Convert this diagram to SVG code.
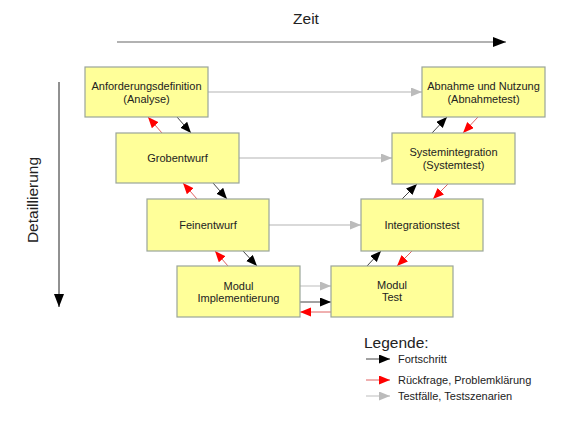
<svg xmlns="http://www.w3.org/2000/svg" width="580" height="425" viewBox="0 0 580 425">
<style>
.box{fill:#ffff99;stroke:#9aa59a;stroke-width:1.2}
.t{font-family:"Liberation Sans",Arial,sans-serif;font-size:11px;fill:#222;text-anchor:middle}
.lg{font-family:"Liberation Sans",Arial,sans-serif;font-size:11px;fill:#222}
.big{font-family:"Liberation Sans",Arial,sans-serif;font-size:15.5px;fill:#222}
.fw{stroke:#444;stroke-width:1;fill:none;marker-end:url(#mb)}
.bk{stroke:#e06060;stroke-width:1;fill:none;marker-end:url(#mr)}
.ts{stroke:#cccccc;stroke-width:1.3;fill:none;marker-end:url(#mg)}
</style>
<defs>
<marker id="mb" markerUnits="userSpaceOnUse" markerWidth="12" markerHeight="10" refX="11" refY="4.5" orient="auto"><path d="M0,0 L11,4.5 L0,9 z" fill="#000"/></marker>
<marker id="mr" markerUnits="userSpaceOnUse" markerWidth="12" markerHeight="10" refX="11" refY="4.5" orient="auto"><path d="M0,0 L11,4.5 L0,9 z" fill="#ff0000"/></marker>
<marker id="mg" markerUnits="userSpaceOnUse" markerWidth="12" markerHeight="10" refX="11" refY="4.5" orient="auto"><path d="M0,0 L11,4.5 L0,9 z" fill="#bbbbbb"/></marker>
<marker id="ma" markerUnits="userSpaceOnUse" markerWidth="14" markerHeight="10" refX="13" refY="5" orient="auto"><path d="M0,0 L13,5 L0,10 z" fill="#000"/></marker>
</defs>
<rect width="580" height="425" fill="#fff"/>

<g id="axes">
<text class="big" x="306" y="24" text-anchor="middle">Zeit</text>
<line x1="117" y1="42" x2="506" y2="42" stroke="#999" stroke-width="1.5" marker-end="url(#ma)"/>
<text class="big" transform="translate(38,200) rotate(-90)" text-anchor="middle">Detaillierung</text>
<line x1="59" y1="82" x2="59" y2="307" stroke="#222" stroke-width="1" marker-end="url(#ma)"/>
</g>

<g id="connectors">
<line class="ts" x1="208" y1="92" x2="422" y2="92"/>
<line class="ts" x1="239" y1="158" x2="392" y2="158"/>
<line class="ts" x1="269" y1="225" x2="361" y2="225"/>
<line class="ts" x1="300" y1="286" x2="331" y2="286"/>
<line class="fw" x1="300" y1="302" x2="331" y2="302"/>
<line class="bk" x1="331" y1="312" x2="300" y2="312"/>

<line class="fw" x1="177" y1="117" x2="191" y2="133"/>
<line class="bk" x1="162" y1="133" x2="148" y2="117"/>
<line class="fw" x1="213" y1="183" x2="227" y2="199"/>
<line class="bk" x1="197" y1="199" x2="183" y2="183"/>
<line class="fw" x1="243" y1="251" x2="257" y2="266"/>
<line class="bk" x1="228" y1="266" x2="215" y2="251"/>

<line class="fw" x1="367" y1="266" x2="381" y2="251"/>
<line class="bk" x1="412" y1="251" x2="397" y2="266"/>
<line class="fw" x1="402" y1="199" x2="417" y2="184"/>
<line class="bk" x1="448" y1="184" x2="433" y2="199"/>
<line class="fw" x1="432" y1="133" x2="447" y2="117"/>
<line class="bk" x1="478" y1="117" x2="463" y2="133"/>
</g>

<g id="anforderung"><rect class="box" x="85" y="67" width="123" height="50"/><text class="t" x="146.5" y="90">Anforderungsdefinition</text><text class="t" x="146.5" y="103">(Analyse)</text></g>
<g id="grobentwurf"><rect class="box" x="116" y="133" width="123" height="50"/><text class="t" x="177.5" y="162">Grobentwurf</text></g>
<g id="feinentwurf"><rect class="box" x="147" y="199" width="122" height="52"/><text class="t" x="208" y="229">Feinentwurf</text></g>
<g id="modulimpl"><rect class="box" x="177" y="266" width="123" height="51"/><text class="t" x="238.5" y="290">Modul</text><text class="t" x="238.5" y="302">Implementierung</text></g>
<g id="abnahme"><rect class="box" x="422" y="67" width="123" height="50"/><text class="t" x="483.5" y="90">Abnahme und Nutzung</text><text class="t" x="483.5" y="103">(Abnahmetest)</text></g>
<g id="systemintegration"><rect class="box" x="392" y="133" width="123" height="51"/><text class="t" x="453.5" y="156">Systemintegration</text><text class="t" x="453.5" y="169">(Systemtest)</text></g>
<g id="integrationstest"><rect class="box" x="361" y="199" width="122" height="52"/><text class="t" x="422" y="229">Integrationstest</text></g>
<g id="modultest"><rect class="box" x="331" y="266" width="122" height="51"/><text class="t" x="392" y="289">Modul</text><text class="t" x="392" y="301">Test</text></g>

<g id="legende">
<text class="big" x="364" y="348">Legende:</text>
<line class="fw" x1="366" y1="359" x2="390" y2="359"/>
<text class="lg" x="398" y="363">Fortschritt</text>
<line class="bk" x1="366" y1="380" x2="390" y2="380"/>
<text class="lg" x="398" y="384">Rückfrage, Problemklärung</text>
<line class="ts" x1="366" y1="396" x2="390" y2="396"/>
<text class="lg" x="398" y="400">Testfälle, Testszenarien</text>
</g>
</svg>
